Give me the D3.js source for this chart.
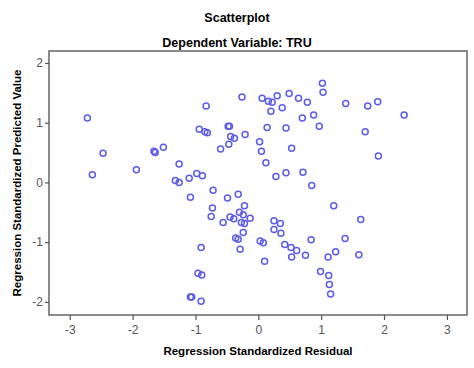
<!DOCTYPE html>
<html>
<head>
<meta charset="utf-8">
<script src="https://cdn.jsdelivr.net/npm/d3@7"></script>
<style>
  body { margin: 0; background: #fff; }
  text { font-family: "Liberation Sans", Arial, sans-serif; }
</style>
</head>
<body>
<div id="chart"></div>
<script>
// residuals (x) and predicted values (y)
const residuals = [
  -2.72, -2.64, -2.47, -1.94, -1.66, -1.64, -1.51, -1.26, -1.32, -1.26,
  -1.10, -0.98, -0.89, -1.08, -1.08, -1.06, -0.91, -0.96, -0.90, -0.91,
  -0.72, -0.73, -0.75, -0.56, -0.49, -0.32, -0.22, -0.30, -0.24, -0.45,
  -0.39, -0.13, -0.27, -0.22, -0.24, -0.36, -0.32, -0.29, 0.03, 0.08,
  0.10, 0.25, 0.35, 0.25, 0.36, 0.42, 0.52, 0.61, 0.53, 0.75,
  0.84, 0.85, 0.28, 0.44, 0.71, 1.20, 1.63, 1.38, 1.23, 1.60,
  1.11, 0.99, 1.12, 1.13, 1.15, 1.02, 1.03, -0.26, 0.06, 0.16,
  0.22, 0.30, 0.49, 0.64, 0.78, 0.20, 0.38, -0.83, 0.70, 0.88,
  0.97, -0.94, -0.85, -0.81, -0.48, -0.46, 0.14, 0.44, -0.44, -0.38,
  -0.21, 0.02, -0.60, -0.47, 0.05, 0.53, 0.12, 1.39, 1.74, 1.90,
  2.32, 1.70, 1.91
];
const predicted = [
  1.08, 0.13, 0.49, 0.21, 0.52, 0.50, 0.59, 0.31, 0.03, 0.00,
  0.07, 0.15, 0.11, -0.25, -1.92, -1.92, -1.99, -1.52, -1.55, -1.09,
  -0.13, -0.43, -0.57, -0.67, -0.26, -0.20, -0.39, -0.50, -0.54, -0.58,
  -0.61, -0.60, -0.67, -0.69, -0.84, -0.93, -0.95, -1.12, -0.98, -1.01,
  -1.32, -0.64, -0.69, -0.79, -0.85, -1.04, -1.09, -1.14, -1.25, -1.22,
  -0.96, -0.05, 0.10, 0.16, 0.17, -0.39, -0.62, -0.94, -1.16, -1.21,
  -1.25, -1.49, -1.56, -1.71, -1.87, 1.66, 1.51, 1.43, 1.41, 1.36,
  1.34, 1.45, 1.49, 1.41, 1.34, 1.19, 1.25, 1.28, 1.08, 1.13,
  0.94, 0.89, 0.85, 0.83, 0.94, 0.94, 0.92, 0.91, 0.77, 0.74,
  0.80, 0.68, 0.56, 0.64, 0.52, 0.57, 0.33, 1.32, 1.28, 1.35,
  1.13, 0.85, 0.44
];
const xTicks = [-3, -2, -1, 0, 1, 2, 3];
const yTicks = [-2, -1, 0, 1, 2];

const W = 474, H = 368;
const margin = { top: 51, right: 7, bottom: 53, left: 49 };

const svg = d3.select("#chart").append("svg")
  .attr("width", W)
  .attr("height", H);

const x = d3.scaleLinear()
  .domain([-3.33, 3.32])
  .range([margin.left, W - margin.right]);

const y = d3.scaleLinear()
  .domain([-2.22, 2.2])
  .range([H - margin.bottom, margin.top]);

// frame
svg.append("rect")
  .attr("x", margin.left)
  .attr("y", margin.top)
  .attr("width", W - margin.left - margin.right)
  .attr("height", H - margin.top - margin.bottom)
  .attr("fill", "none")
  .attr("stroke", "#666")
  .attr("stroke-width", 1.5);

const fmt = d => String(d); // plain hyphen minus, no decimals

const xAxis = svg.append("g")
  .attr("transform", `translate(0,${H - margin.bottom})`)
  .call(d3.axisBottom(x).tickValues(xTicks).tickFormat(fmt)
    .tickSize(5).tickSizeOuter(0).tickPadding(5));

const yAxis = svg.append("g")
  .attr("transform", `translate(${margin.left},0)`)
  .call(d3.axisLeft(y).tickValues(yTicks).tickFormat(fmt)
    .tickSize(4).tickSizeOuter(0).tickPadding(2));

[xAxis, yAxis].forEach(g => {
  g.select(".domain").remove();
  g.selectAll("line").attr("stroke", "#555").attr("stroke-width", 1.2);
  g.selectAll("text")
    .attr("fill", "#555")
    .style("font-family", "'Liberation Sans', Arial, sans-serif")
    .style("font-size", "12px");
});

svg.selectAll("circle.pt")
  .data(residuals.map((r, i) => ({ r, p: predicted[i] })))
  .enter().append("circle")
  .attr("class", "pt")
  .attr("cx", d => x(d.r))
  .attr("cy", d => y(d.p))
  .attr("r", 3)
  .attr("fill", "none")
  .attr("stroke", "#5c5ce8")
  .attr("stroke-width", 1.5);

// titles
svg.append("text")
  .attr("x", 237).attr("y", 22)
  .attr("text-anchor", "middle")
  .style("font-size", "12.5px").style("font-weight", "bold")
  .text("Scatterplot");

svg.append("text")
  .attr("x", 237).attr("y", 47)
  .attr("text-anchor", "middle")
  .style("font-size", "12.5px").style("font-weight", "bold")
  .text("Dependent Variable: TRU");

svg.append("text")
  .attr("x", (margin.left + W - margin.right) / 2)
  .attr("y", 355)
  .attr("text-anchor", "middle")
  .style("font-size", "11.5px").style("font-weight", "bold")
  .text("Regression Standardized Residual");

svg.append("text")
  .attr("transform", `translate(21,${(margin.top + H - margin.bottom) / 2}) rotate(-90)`)
  .attr("text-anchor", "middle")
  .style("font-size", "11.5px").style("font-weight", "bold")
  .text("Regression Standardized Predicted Value");
</script>
</body>
</html>
